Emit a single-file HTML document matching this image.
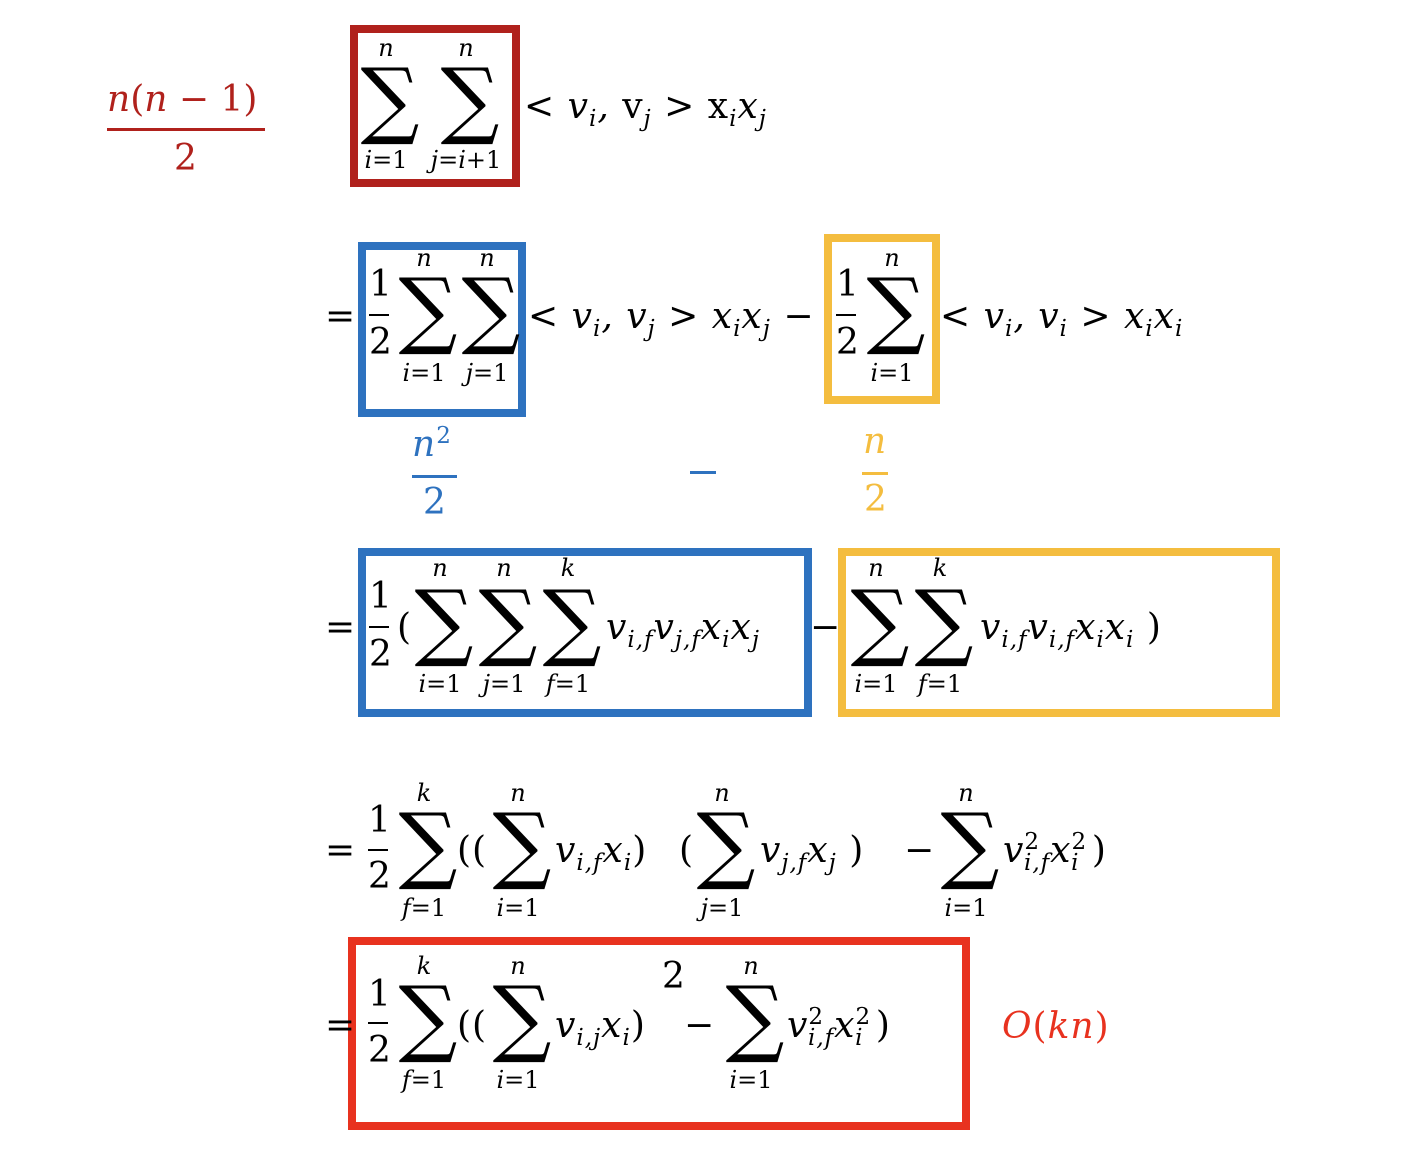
<!DOCTYPE html>
<html><head><meta charset="utf-8"><style>
body{margin:0;width:1420px;height:1170px;background:#fff;position:relative;overflow:hidden;font-family:"DejaVu Serif","Liberation Serif",serif;color:#000}
.t{position:absolute;line-height:1;white-space:nowrap;font-size:36px;font-style:italic;letter-spacing:1px}
.u{font-style:normal}
.s{position:absolute;width:52px;height:80px;line-height:80px;text-align:center;font-family:"DejaVu Serif",serif;font-size:84px;font-style:normal;overflow:visible}
.s span{display:inline-block;transform:translateY(-8px) scale(0.98,1)}
.l{position:absolute;line-height:1;white-space:nowrap;font-size:24px;font-style:italic;text-align:center}
sub,sup{font-size:23px;line-height:0}
sub{vertical-align:-8px}
sup{vertical-align:13px}
.b{position:absolute;box-sizing:border-box}
</style></head><body>

<div class="b" style="left:350px;top:25px;width:170px;height:162px;border:8px solid #b0211c"></div>
<div class="b" style="left:358px;top:242px;width:168px;height:175px;border:8px solid #2e72bf"></div>
<div class="b" style="left:824px;top:234px;width:116px;height:170px;border:8px solid #f4bd3f"></div>
<div class="b" style="left:358px;top:548px;width:454px;height:169px;border:8px solid #2e72bf"></div>
<div class="b" style="left:838px;top:548px;width:442px;height:169px;border:8px solid #f4bd3f"></div>
<div class="b" style="left:348px;top:937px;width:622px;height:193px;border:8px solid #e8321f"></div>

<div class="t" style="left:107px;top:82px;color:#b0211c;letter-spacing:0">n<span class="u">(</span>n <span class="u">−</span> <span class="u">1)</span></div>
<div style="position:absolute;left:107px;top:128px;width:158px;height:3px;background:#b0211c"></div>
<div class="t u" style="left:174px;top:141px;color:#b0211c">2</div>

<!-- row 1 -->
<div class="l" style="left:360px;top:36px;width:52px">n</div>
<div class="s" style="left:360px;top:67px"><span>∑</span></div>
<div class="l" style="left:356px;top:148px;width:60px">i<span class="u">=1</span></div>
<div class="l" style="left:440px;top:36px;width:52px">n</div>
<div class="s" style="left:440px;top:67px"><span>∑</span></div>
<div class="l" style="left:418px;top:148px;width:96px">j<span class="u">=</span>i<span class="u">+1</span></div>
<div class="t" style="left:524px;top:89px"><span class="u">&lt;</span> v<sub>i</sub>, <span class="u">v</span><sub>j</sub> <span class="u">&gt;</span> <span class="u">x</span><sub>i</sub>x<sub>j</sub></div>

<!-- row 2 -->
<div class="t u" style="left:325px;top:299px">=</div>
<div class="t u" style="left:369px;top:267px">1</div>
<div style="position:absolute;left:369px;top:314px;width:20px;height:2px;background:#000"></div>
<div class="t u" style="left:369px;top:325px">2</div>
<div class="l" style="left:398px;top:246px;width:52px">n</div>
<div class="s" style="left:398px;top:277px"><span>∑</span></div>
<div class="l" style="left:394px;top:361px;width:60px">i<span class="u">=1</span></div>
<div class="l" style="left:461px;top:246px;width:52px">n</div>
<div class="s" style="left:461px;top:277px"><span>∑</span></div>
<div class="l" style="left:457px;top:361px;width:60px">j<span class="u">=1</span></div>
<div class="t" style="left:528px;top:299px"><span class="u">&lt;</span> v<sub>i</sub>, v<sub>j</sub> <span class="u">&gt;</span> x<sub>i</sub>x<sub>j</sub> <span class="u">−</span></div>
<div class="t u" style="left:836px;top:267px">1</div>
<div style="position:absolute;left:836px;top:314px;width:20px;height:2px;background:#000"></div>
<div class="t u" style="left:836px;top:325px">2</div>
<div class="l" style="left:866px;top:246px;width:52px">n</div>
<div class="s" style="left:866px;top:277px"><span>∑</span></div>
<div class="l" style="left:862px;top:361px;width:60px">i<span class="u">=1</span></div>
<div class="t" style="left:940px;top:299px"><span class="u">&lt;</span> v<sub>i</sub>, v<sub>i</sub> <span class="u">&gt;</span> x<sub>i</sub>x<sub>i</sub></div>

<!-- middle fractions -->
<div class="t" style="left:412px;top:427px;color:#2e72bf">n<sup class="u">2</sup></div>
<div style="position:absolute;left:412px;top:475px;width:45px;height:3px;background:#2e72bf"></div>
<div class="t u" style="left:423px;top:485px;color:#2e72bf">2</div>
<div style="position:absolute;left:690px;top:471px;width:26px;height:3px;background:#2e72bf"></div>
<div class="t" style="left:863px;top:424px;color:#f4bd3f">n</div>
<div style="position:absolute;left:862px;top:472px;width:26px;height:3px;background:#f4bd3f"></div>
<div class="t u" style="left:864px;top:482px;color:#f4bd3f">2</div>

<!-- row 3 -->
<div class="t u" style="left:325px;top:610px">=</div>
<div class="t u" style="left:369px;top:579px">1</div>
<div style="position:absolute;left:369px;top:626px;width:20px;height:2px;background:#000"></div>
<div class="t u" style="left:369px;top:637px">2</div>
<div class="t u" style="left:397px;top:610px">(</div>
<div class="l" style="left:414px;top:556px;width:52px">n</div>
<div class="s" style="left:414px;top:589px"><span>∑</span></div>
<div class="l" style="left:410px;top:672px;width:60px">i<span class="u">=1</span></div>
<div class="l" style="left:478px;top:556px;width:52px">n</div>
<div class="s" style="left:478px;top:589px"><span>∑</span></div>
<div class="l" style="left:474px;top:672px;width:60px">j<span class="u">=1</span></div>
<div class="l" style="left:542px;top:556px;width:52px">k</div>
<div class="s" style="left:542px;top:589px"><span>∑</span></div>
<div class="l" style="left:538px;top:672px;width:60px">f<span class="u">=1</span></div>
<div class="t" style="left:606px;top:610px">v<sub>i,f</sub>v<sub>j,f</sub>x<sub>i</sub>x<sub>j</sub></div>
<div class="t u" style="left:810px;top:610px">−</div>
<div class="l" style="left:850px;top:556px;width:52px">n</div>
<div class="s" style="left:850px;top:589px"><span>∑</span></div>
<div class="l" style="left:846px;top:672px;width:60px">i<span class="u">=1</span></div>
<div class="l" style="left:914px;top:556px;width:52px">k</div>
<div class="s" style="left:914px;top:589px"><span>∑</span></div>
<div class="l" style="left:910px;top:672px;width:60px">f<span class="u">=1</span></div>
<div class="t" style="left:980px;top:610px">v<sub>i,f</sub>v<sub>i,f</sub>x<sub>i</sub>x<sub>i</sub> <span class="u">)</span></div>

<!-- row 4 -->
<div class="t u" style="left:325px;top:833px">=</div>
<div class="t u" style="left:368px;top:803px">1</div>
<div style="position:absolute;left:368px;top:849px;width:20px;height:2px;background:#000"></div>
<div class="t u" style="left:368px;top:859px">2</div>
<div class="l" style="left:398px;top:781px;width:52px">k</div>
<div class="s" style="left:398px;top:812px"><span>∑</span></div>
<div class="l" style="left:394px;top:896px;width:60px">f<span class="u">=1</span></div>
<div class="t u" style="left:457px;top:833px">((</div>
<div class="l" style="left:492px;top:781px;width:52px">n</div>
<div class="s" style="left:492px;top:812px"><span>∑</span></div>
<div class="l" style="left:488px;top:896px;width:60px">i<span class="u">=1</span></div>
<div class="t" style="left:555px;top:833px">v<sub>i,f</sub>x<sub>i</sub><span class="u">)</span></div>
<div class="t u" style="left:679px;top:833px">(</div>
<div class="l" style="left:696px;top:781px;width:52px">n</div>
<div class="s" style="left:696px;top:812px"><span>∑</span></div>
<div class="l" style="left:692px;top:896px;width:60px">j<span class="u">=1</span></div>
<div class="t" style="left:760px;top:833px">v<sub>j,f</sub>x<sub>j</sub> <span class="u">)</span></div>
<div class="t u" style="left:904px;top:833px">−</div>
<div class="l" style="left:940px;top:781px;width:52px">n</div>
<div class="s" style="left:940px;top:812px"><span>∑</span></div>
<div class="l" style="left:936px;top:896px;width:60px">i<span class="u">=1</span></div>
<div class="t" style="left:1003px;top:833px">v<sup class="u">2</sup><sub style="margin-left:-16px">i,f</sub>x<sup class="u">2</sup><sub style="margin-left:-16px">i</sub><span class="u">&nbsp;)</span></div>

<!-- row 5 -->
<div class="t u" style="left:325px;top:1008px">=</div>
<div class="t u" style="left:368px;top:977px">1</div>
<div style="position:absolute;left:368px;top:1022px;width:20px;height:2px;background:#000"></div>
<div class="t u" style="left:368px;top:1033px">2</div>
<div class="l" style="left:398px;top:954px;width:52px">k</div>
<div class="s" style="left:398px;top:985px"><span>∑</span></div>
<div class="l" style="left:394px;top:1068px;width:60px">f<span class="u">=1</span></div>
<div class="t u" style="left:457px;top:1008px">((</div>
<div class="l" style="left:492px;top:954px;width:52px">n</div>
<div class="s" style="left:492px;top:985px"><span>∑</span></div>
<div class="l" style="left:488px;top:1068px;width:60px">i<span class="u">=1</span></div>
<div class="t" style="left:555px;top:1008px">v<sub>i,j</sub>x<sub>i</sub><span class="u">)</span></div>
<div class="t u" style="left:662px;top:959px">2</div>
<div class="t u" style="left:684px;top:1008px">−</div>
<div class="l" style="left:725px;top:954px;width:52px">n</div>
<div class="s" style="left:725px;top:985px"><span>∑</span></div>
<div class="l" style="left:721px;top:1068px;width:60px">i<span class="u">=1</span></div>
<div class="t" style="left:787px;top:1008px">v<sup class="u">2</sup><sub style="margin-left:-16px">i,f</sub>x<sup class="u">2</sup><sub style="margin-left:-16px">i</sub><span class="u">&nbsp;)</span></div>
<div class="t" style="left:1002px;top:1009px;color:#e8321f">O<span class="u">(</span>kn<span class="u">)</span></div>

</body></html>
